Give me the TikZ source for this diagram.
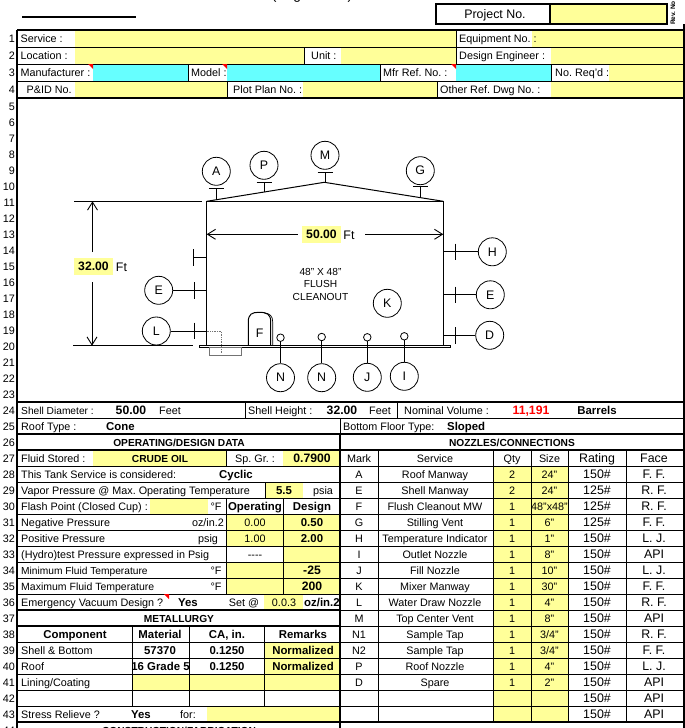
\documentclass[tikz,border=0pt]{standalone}
\usepackage{fontspec}
\setmainfont{Liberation Sans}
\usetikzlibrary{positioning,arrows.meta,calc,shapes}
\definecolor{cellyellow}{RGB}{255,255,153}
\definecolor{cellcyan}{RGB}{102,255,255}
\frenchspacing
\tikzset{
    lbl/.style = {
        anchor=base west,
        inner sep=0pt,
        font=\fontsize{10.8}{12}\selectfont
    },
    txt/.style = {
        anchor=base,
        inner sep=0pt,
        font=\fontsize{10.8}{12}\selectfont
    },
    bld/.style = {
        anchor=base,
        inner sep=0pt,
        font=\fontsize{11.4}{12}\selectfont\bfseries
    },
    hdr/.style = {
        anchor=base,
        inner sep=0pt,
        font=\fontsize{10.2}{12}\selectfont\bfseries
    },
    val/.style = {
        anchor=base,
        inner sep=0pt,
        font=\fontsize{12.2}{12}\selectfont\bfseries
    },
    rate/.style = {
        anchor=base,
        inner sep=0pt,
        font=\fontsize{12.4}{12}\selectfont
    },
    rownum/.style = {
        anchor=base east,
        inner sep=0pt,
        font=\fontsize{10.8}{12}\selectfont
    },
    nozzle/.style = {
        draw,
        shape=circle,
        inner sep=0pt,
        minimum size=28pt,
        line width=0.8pt,
        font=\fontsize{12.4}{12}\selectfont
    },
    tap/.style = {
        draw,
        shape=circle,
        inner sep=0pt,
        minimum size=7.5pt,
        line width=0.8pt
    },
    thin line/.style = {line width=0.9pt},
    thick line/.style = {line width=1.8pt},
    tank/.style = {line width=1pt},
    >={Straight Barb[length=8pt,width=10pt,line width=0.9pt]},
}

\begin{document}
\begin{tikzpicture}[x=1pt,y=-1pt]
    \useasboundingbox (0,0) rectangle (685,728);
    \clip (0,0) rectangle (685,728);

    % cell fills
    \foreach \xa/\ya/\xb/\yb in {551/5/666/23,
        74.5/30/456/47, 532/30/684/47, 74.5/47/304/64, 341/47/456/64, 551/47/684/64,
        609/64/684/81, 74.5/81/227/98, 303/81/437/98, 551/81/684/98,
        93/450/226/466, 283/450/340/466, 265/482/303/498, 150/498/208/514,
        226/514/340/546, 283/546/340/562, 226/562/340/594, 264/594/303/610,
        264/642/340/674, 132/674/340/690, 207/706/340/722,
        493/466/568/722}
        \fill[cellyellow] (\xa,\ya) rectangle (\xb,\yb);
    \foreach \xa/\xb in {93/188.6, 227/380, 456/551}
        \fill[cellcyan] (\xa,64) rectangle (\xb,81);

    % horizontal and vertical rules
    \foreach \ya in {47,64,81}
        \draw[thin line] (17,\ya) -- (684,\ya);
    \foreach \ya in {418,466,482,498,514,530,546,562,578,594,642,658,674,690,706}
        \draw[thin line] (17,\ya) -- (684,\ya);
    \foreach \ya in {610,626}
        \draw[thin line] (340,\ya) -- (684,\ya);
    \foreach \xa/\ya/\yb in {456/30/64, 304/47/64, 188.6/64/81, 380/64/81, 551/64/81,
        227/81/98, 437/81/98, 245/402/418, 397/402/418, 340/418/434,
        226/450/466, 265/482/498, 226/498/594, 283/498/594,
        132/626/706, 189/626/706, 264/626/706,
        378/450/722, 493/450/722, 531/450/722, 568/450/722, 626/450/722}
        \draw[thin line] (\xa,\ya) -- (\xa,\yb);
    \foreach \ya in {30,98,402,434,450,722}
        \draw[thick line] (17,\ya) -- (684,\ya);
    \foreach \ya in {610,626}
        \draw[thick line] (17,\ya) -- (340,\ya);
    \draw[thick line] (17,30) -- (17,728);
    \draw[thick line] (684,24) -- (684,728);
    \draw[thick line] (340,434) -- (340,728);

    % comment markers
    \foreach \xa/\ya in {93/64, 227/64, 456/64, 169/594}
        \fill[red] (\xa,\ya) -- ++(-5,0) -- ++(5,5) -- cycle;

    % title block
    \draw[line width=2pt] (22,17) -- (136,17);
    \node[rate, font=\fontsize{13.9}{14}\selectfont] (page) at (312,-1) {(Page 1 of 3)};
    \draw[thick line] (436,4) rectangle (667,24);
    \draw[thick line] (550,4) -- (550,24);
    \node[rate] (project) at (495,18) {Project No.};
    \node[anchor=base, inner sep=0pt, rotate=90, font=\fontsize{6.5}{7}\selectfont\bfseries] (rev) at (675,13) {Rev. No};

    % row numbers
    \foreach \n/\by in {1/42,2/59,3/76,4/93}
        \node[rownum] (row\n) at (15,\by) {\n};
    \foreach \n [evaluate=\n as \by using 110+16*(\n-5)] in {5,...,44}
        \node[rownum] (row\n) at (15,\by) {\n};

    % header rows
    \node[lbl] (service) at (20.5,42) {Service :};
    \node[lbl] (equipment) at (459,42) {Equipment No. :};
    \node[lbl] (location) at (20.5,59) {Location :};
    \node[lbl] (unit) at (311,59) {Unit :};
    \node[lbl] (engineer) at (459,59) {Design Engineer :};
    \node[lbl] (manufacturer) at (20.5,76) {Manufacturer :};
    \node[lbl] (model) at (191,76) {Model :};
    \node[lbl] (mfrref) at (383,76) {Mfr Ref. No. :};
    \node[lbl] (noreqd) at (555,76) {No. Req'd :};
    \node[lbl] (pid) at (26.5,93) {P\&ID No.};
    \node[lbl] (plotplan) at (233,93) {Plot Plan No. :};
    \node[lbl] (otherref) at (440,93) {Other Ref. Dwg No. :};

    % tank
    \coordinate (top_left) at (206.7,201.3);
    \coordinate (top_right) at (443.3,201.3);
    \coordinate (bottom_left) at (206.7,345.7);
    \coordinate (bottom_right) at (443.3,345.7);
    \coordinate (apex) at (324.3,182.3);
    \draw[tank] (bottom_left) -- (top_left) -- (top_right) -- (bottom_right);
    \draw[tank] (top_left) -- (apex) -- (top_right);
    \draw[tank] (199.3,345.2) rectangle (450.7,347.8);

    % hidden sump
    \draw[line width=0.7pt, black!55] (209.3,347.8) rectangle (241.7,355.7);
    \draw[line width=0.7pt, black!55, densely dotted] (206.7,331.3) -- (221.3,331.3) -- (221.3,354);

    % flush cleanout
    \draw[tank] (248.3,345.7) -- (248.3,322) .. controls (248.3,314) and (252,312.3) .. (259,312.3)
        .. controls (267,312.3) and (270.7,314) .. (270.7,322) -- (270.7,345.7);
    \draw[line width=0.7pt] (264,312.8) .. controls (270,313.5) and (272.7,316) .. (272.7,322) -- (272.7,345.7);
    \node[rate] (cleanout) at (259.7,337) {F};

    % roof nozzles
    \foreach \mk/\nx/\ny/\fy/\sy in {A/216.3/171.3/188.7/200, P/264/165.3/182.3/192, M/325/155.3/172.3/182.3, G/420.3/170.7/186.3/198}
    {
        \node[nozzle] (\mk) at (\nx,\ny) {\mk};
        \coordinate (\mk_flange) at (\nx,\fy);
        \coordinate (\mk_roof) at (\nx,\sy);
        \draw[tank] (\mk_flange) -- (\mk_roof);
        \draw[tank] ($(\mk_flange)+(-7.5,0)$) -- ($(\mk_flange)+(7.5,0)$);
    }

    % shell nozzles, left and right
    \foreach \nm/\mk/\nx/\ny/\wx/\fx in {El/E/158.7/290.3/206.7/194.3, L/L/156.3/331/206.7/194.3, H/H/492.3/251.8/443.3/455.3, Er/E/490.3/294.8/443.3/455.3, D/D/489.7/335.3/443.3/455.3}
    {
        \node[nozzle] (\nm) at (\nx,\ny) {\mk};
        \coordinate (\nm_wall) at (\wx,\ny);
        \draw[tank] (\nm) -- (\nm_wall);
        \draw[tank] (\fx,\ny-8.3) -- (\fx,\ny+8.3);
    }
    \coordinate (spare_wall) at (206.7,257.3);
    \coordinate (spare_flange) at (193.3,257.3);
    \draw[tank] (spare_wall) -- (spare_flange);
    \draw[tank] (193.3,249) -- (193.3,265.7);

    % bottom taps
    \foreach \nm/\mk/\nx/\ty/\ny in {N1/N/280.5/337.7/377.7, N2/N/321.7/337/377.7, J/J/367.3/337.3/377.3, I/I/404.3/336.3/376.3}
    {
        \node[tap] (tap_\nm) at (\nx,\ty) {};
        \node[nozzle] (\nm) at (\nx,\ny) {\mk};
        \draw[tank] (tap_\nm) -- (\nm);
    }
    \node[nozzle] (K) at (387.3,303.3) {K};

    % dimensions
    \coordinate (ht_top) at (92.5,201.3);
    \coordinate (ht_bottom) at (92,345.7);
    \draw[tank] (74,201.3) -- (201.7,201.3);
    \draw[tank] (73,345.7) -- (193,345.7);
    \node[val, fill=cellyellow, anchor=center, minimum width=39pt, minimum height=17.3pt] (height) at (93.5,266.3) {32.00};
    \node[rate] (height_unit) at (121.5,271) {Ft};
    \path[draw, ->, tank] (92.5,252) -- (ht_top);
    \path[draw, ->, tank] (92,282) -- (ht_bottom);
    \coordinate (dia_left) at (206.7,234.3);
    \coordinate (dia_right) at (443.3,234.3);
    \node[val, fill=cellyellow, anchor=center, minimum width=39pt, minimum height=16.7pt] (diameter) at (321.5,234.3) {50.00};
    \node[rate] (diameter_unit) at (349,239) {Ft};
    \path[draw, ->, tank] (297.7,234.3) -- (dia_left);
    \path[draw, ->, tank] (365,234.3) -- (dia_right);
    \node[txt, font=\fontsize{10.2}{12}\selectfont] (note1) at (320.5,275) {48" X 48"};
    \node[txt, font=\fontsize{10.2}{12}\selectfont] (note2) at (320.5,287) {FLUSH};
    \node[txt, font=\fontsize{10.2}{12}\selectfont] (note3) at (320.5,300) {CLEANOUT};

    % rows 24 and 25
    \node[lbl, font=\fontsize{10.2}{12}\selectfont] (shelldia) at (21,414) {Shell Diameter :};
    \node[val] (shelldia_val) at (131,414) {50.00};
    \node[lbl] (shelldia_unit) at (159,414) {Feet};
    \node[lbl] (shellht) at (248,414) {Shell Height :};
    \node[val] (shellht_val) at (342,414) {32.00};
    \node[lbl] (shellht_unit) at (369,414) {Feet};
    \node[lbl] (volume) at (404,414) {Nominal Volume :};
    \node[val, red] (volume_val) at (531,414) {11,191};
    \node[bld] (volume_unit) at (597,414) {Barrels};
    \node[lbl] (roof) at (21,430) {Roof Type :};
    \node[bld, anchor=base west] (roof_val) at (106,430) {Cone};
    \node[lbl] (floor) at (343,430) {Bottom Floor Type:};
    \node[bld, anchor=base west] (floor_val) at (447,430) {Sloped};

    % operating data
    \node[hdr] (operating) at (179,446) {OPERATING/DESIGN DATA};
    \node[lbl] (fluid) at (21,462) {Fluid Stored :};
    \node[hdr] (fluid_val) at (160,462) {CRUDE OIL};
    \node[txt] (spgr) at (255,462) {Sp. Gr. :};
    \node[val] (spgr_val) at (312,462) {0.7900};
    \node[lbl] (cyclic) at (21,478) {This Tank Service is considered:};
    \node[bld] (cyclic_val) at (236,478) {Cyclic};
    \node[lbl] (vapor) at (21,494) {Vapor Pressure @ Max. Operating Temperature};
    \node[bld] (vapor_val) at (284,494) {5.5};
    \node[txt] (vapor_unit) at (323,494) {psia};
    \node[lbl] (flash) at (21,510) {Flash Point (Closed Cup) :};
    \node[txt] (flash_unit) at (216,510) {°F};
    \node[bld] (head_oper) at (255,510) {Operating};
    \node[bld] (head_design) at (312,510) {Design};
    \node[lbl] (negative) at (21,526) {Negative Pressure};
    \node[txt] (negative_unit) at (208,526) {oz/in.2};
    \node[txt] (negative_oper) at (255,526) {0.00};
    \node[bld] (negative_design) at (312,526) {0.50};
    \node[lbl] (positive) at (21,542) {Positive Pressure};
    \node[txt] (positive_unit) at (208,542) {psig};
    \node[txt] (positive_oper) at (255,542) {1.00};
    \node[bld] (positive_design) at (312,542) {2.00};
    \node[lbl] (hydro) at (21,558) {(Hydro)test Pressure expressed in Psig};
    \node[txt] (hydro_oper) at (255,558) {-{}-{}-{}-};
    \node[lbl, font=\fontsize{10.2}{12}\selectfont] (mintemp) at (21,574) {Minimum Fluid Temperature};
    \node[txt] (mintemp_unit) at (216,574) {°F};
    \node[val] (mintemp_design) at (312,574) {-25};
    \node[lbl, font=\fontsize{10.5}{12}\selectfont] (maxtemp) at (21,590) {Maximum Fluid Temperature};
    \node[txt] (maxtemp_unit) at (216,590) {°F};
    \node[val] (maxtemp_design) at (312,590) {200};
    \node[lbl] (vacuum) at (21,606) {Emergency Vacuum Design ?};
    \node[bld] (vacuum_val) at (188,606) {Yes};
    \node[txt] (setat) at (244,606) {Set @};
    \node[txt] (setat_val) at (284,606) {0.0.3};
    \node[bld, anchor=base west] (setat_unit) at (304,606) {oz/in.2};

    % metallurgy
    \node[hdr] (metallurgy) at (179,622) {METALLURGY};
    \node[bld] (component) at (75,638) {Component};
    \node[bld] (material) at (160,638) {Material};
    \node[bld] (ca) at (227,638) {CA, in.};
    \node[bld] (remarks) at (303,638) {Remarks};
    \node[lbl] (shell) at (21,654) {Shell \& Bottom};
    \node[bld] (shell_mat) at (160,654) {57370};
    \node[bld] (shell_ca) at (227,654) {0.1250};
    \node[bld] (shell_rem) at (303,654) {Normalized};
    \node[lbl] (roofmat) at (21,670) {Roof};
    \node[bld] (roof_mat) at (160.5,670) {16 Grade 5};
    \node[bld] (roof_ca) at (227,670) {0.1250};
    \node[bld] (roof_rem) at (303,670) {Normalized};
    \node[lbl] (lining) at (21,686) {Lining/Coating};
    \node[lbl] (stress) at (21,718) {Stress Relieve ?};
    \node[bld] (stress_val) at (141,718) {Yes};
    \node[txt] (stress_for) at (188,718) {for:};
    \node[hdr] (construction) at (179,734) {CONSTRUCTION/FABRICATION};

    % nozzle table
    \node[hdr] (nozzles) at (512,446) {NOZZLES/CONNECTIONS};
    \node[txt] (head_mark) at (359,462) {Mark};
    \node[txt] (head_service) at (435,462) {Service};
    \node[txt] (head_qty) at (512,462) {Qty};
    \node[txt] (head_size) at (549.5,462) {Size};
    \node[rate] (head_rating) at (597,462) {Rating};
    \node[rate] (head_face) at (654,462) {Face};
    \foreach \i/\mk/\sv/\qt/\sz/\rt/\fc [evaluate=\i as \by using 478+16*\i] in {
        0/A/Roof Manway/2/24"/150\#/F. F.,
        1/E/Shell Manway/2/24"/125\#/R. F.,
        2/F/Flush Cleanout MW/1/48"x48"/125\#/R. F.,
        3/G/Stilling Vent/1/6"/125\#/F. F.,
        4/H/Temperature Indicator/1/1"/150\#/L. J.,
        5/I/Outlet Nozzle/1/8"/150\#/API,
        6/J/Fill Nozzle/1/10"/150\#/L. J.,
        7/K/Mixer Manway/1/30"/150\#/F. F.,
        8/L/Water Draw Nozzle/1/4"/150\#/R. F.,
        9/M/Top Center Vent/1/8"/150\#/API,
        10/N1/Sample Tap/1/3\slash 4"/150\#/R. F.,
        11/N2/Sample Tap/1/3\slash 4"/150\#/F. F.,
        12/P/Roof Nozzle/1/4"/150\#/L. J.,
        13/D/Spare/1/2"/150\#/API,
        14//// /150\#/API,
        15//// /150\#/API}
    {
        \node[txt] (mark\i) at (359,\by) {\mk};
        \node[txt] (service\i) at (435,\by) {\sv};
        \node[txt] (qty\i) at (512,\by) {\qt};
        \node[txt] (size\i) at (549.5,\by) {\sz};
        \node[rate] (rating\i) at (597,\by) {\rt};
        \node[rate] (face\i) at (654,\by) {\fc};
    }
\end{tikzpicture}
\end{document}
